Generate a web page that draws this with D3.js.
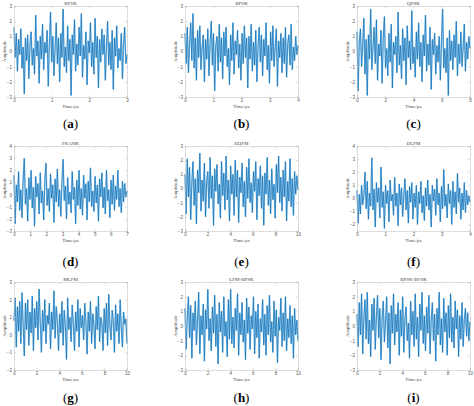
<!DOCTYPE html>
<html><head><meta charset="utf-8">
<script src="https://cdn.jsdelivr.net/npm/d3@7"></script>
<style>body{margin:0;background:#fff}</style>
</head><body><div id="chart"></div>
<script>
const titles = ["BFSK","BPSK","QPSK","FRANK","EQFM","DLFM","MLFM","LFM-BPSK","BPSK-BFSK"];
const captions = ["a","b","c","d","e","f","g","h","i"];
const xMax = [3,4,8,7,10,4,10,10,10];
const xTicks = [[0,1,2,3],[0,1,2,3,4],[0,2,4,6,8],[0,1,2,3,4,5,6,7],[0,2,4,6,8,10],[0,1,2,3,4],[0,2,4,6,8,10],[0,2,4,6,8,10],[0,2,4,6,8,10]];
const yRange = [[-3,3],[-3,3],[-3,3],[-3,4],[-3,3],[-2.5,4],[-2,3],[-3,3],[-3,3]];
const yTicks = [[-3,-2,-1,0,1,2,3],[-3,-2,-1,0,1,2,3],[-3,-2,-1,0,1,2,3],[-3,-2,-1,0,1,2,3,4],[-3,-2,-1,0,1,2,3],[-2,-1,0,1,2,3,4],[-2,-1,0,1,2,3],[-3,-2,-1,0,1,2,3],[-3,-2,-1,0,1,2,3]];

const sigA = [1.6,-0.4,1.2,-1.3,0.8,-0.2,1.5,-1.1,0.3,-2.8,0.9,-0.6,1.1,-1.8,0.4,1.3,-0.9,0.2,-1.5,2.4,-0.3,0.7,-2.1,1.0,-0.5,1.8,-1.2,0.6,-0.1,1.4,-2.3,0.5,2.6,-0.7,1.0,-1.6,0.2,1.9,-0.8,0.9,-2.0,1.2,-0.4,2.8,-1.0,0.3,-1.4,1.7,-0.6,0.8,-2.9,1.1,-0.2,2.1,-1.3,0.5,-0.9,1.6,-0.3,2.5,-1.7,0.4,-0.5,1.3,-2.2,0.7,-0.1,1.9,-1.0,0.6,-1.5,2.2,-0.4,1.0,-2.4,0.8,-0.7,1.5,-0.2,1.1,-1.9,0.3,2.0,-0.9,0.6,-1.2,1.4,-2.5,0.9,-0.3,1.7,-1.1,0.2,-0.6,1.2,-1.8,0.5,1.6,-0.8,-0.2];
const sigB = [1.2,-0.8,1.6,-1.4,0.5,1.9,-0.6,2.5,-1.1,0.9,-1.9,1.4,-0.4,1.7,-1.2,0.3,1.1,-2.0,0.8,-0.5,1.5,-1.6,0.6,2.0,-0.9,1.2,-2.6,0.4,1.0,-1.3,1.8,-0.7,0.9,-1.8,1.3,-0.3,1.6,-1.0,0.2,-2.2,1.1,-0.6,1.9,-1.5,0.7,-0.2,1.4,-1.1,0.5,-1.9,1.2,-0.8,1.7,-0.4,0.9,-2.4,1.0,-0.5,1.8,-1.3,0.6,-0.9,1.4,-2.0,0.3,1.6,-0.7,1.1,-1.6,0.8,-0.3,1.9,-1.2,0.4,-2.1,1.3,-0.6,1.7,-1.0,0.2,1.5,-2.3,0.7,-0.4,1.2,-1.4,0.9,-0.8,1.6,-1.7,0.5,1.1,-0.9,1.8,-1.2,0.3,-0.6,1.0,-0.2,0.4];
const sigC = [1.3,-2.6,0.6,1.5,-1.0,0.4,2.2,-1.5,0.8,-2.9,1.1,-0.5,2.8,-1.2,0.3,1.6,-0.8,2.1,-1.9,0.5,-0.3,1.4,-2.1,0.9,2.3,-1.1,0.2,-1.6,1.2,-0.7,1.8,-2.4,0.6,-0.2,1.0,-1.4,2.6,-0.9,0.4,-1.8,1.5,-0.6,0.9,-2.2,1.7,-0.4,0.7,-1.2,2.7,-0.8,0.3,-1.7,1.3,-0.5,1.9,-1.0,0.6,-2.0,1.1,-0.3,2.4,-1.3,0.5,-0.9,1.6,-2.5,0.8,-0.2,1.2,-1.5,0.4,-0.7,1.0,-1.9,0.6,2.8,-1.1,0.2,-1.4,0.9,-2.9,1.4,-0.6,0.7,-1.2,1.1,-0.4,2.0,-1.6,0.5,-0.8,1.3,-1.0,0.3,1.8,-1.3,0.6,-0.5,1.0,0.2];
const sigD = [1.6,-2.4,0.8,-0.6,1.9,-1.3,0.4,-1.9,1.2,3.0,-0.8,0.5,-2.2,1.4,-0.4,2.0,-1.1,0.6,-2.6,1.5,-0.2,0.9,-1.6,1.8,-0.7,0.3,-2.1,1.1,2.6,-0.9,0.5,-1.4,1.7,-0.3,0.8,-2.3,1.3,-0.6,2.1,-1.0,0.4,-1.8,1.0,2.9,-0.5,0.7,-2.0,1.4,-0.8,0.2,-1.5,1.9,-0.4,0.6,-2.4,1.2,-0.9,2.0,-1.2,0.5,-1.7,1.6,-0.3,0.9,-2.1,1.1,-0.6,2.2,-1.0,0.3,-1.4,1.5,-0.7,0.8,-2.2,1.3,-0.2,1.8,-1.1,0.6,-1.6,2.0,-0.5,0.4,-1.9,1.2,-0.8,1.6,-1.3,0.7,-0.4,2.0,-1.0,0.5,-1.5,1.1,-0.6,0.9,-0.2,0.3];
const sigE = [1.0,-1.8,2.1,-0.6,1.5,-2.2,0.4,1.9,-1.2,0.7,-2.5,1.3,-0.3,2.5,-1.6,0.6,-0.9,1.8,-2.0,0.5,1.2,-1.4,2.2,-0.7,0.9,-2.6,1.4,-0.2,1.7,-1.1,0.3,-2.1,1.9,-0.5,1.1,-1.5,2.3,-0.8,0.6,-2.3,1.6,-0.4,1.0,-1.9,2.0,-0.6,1.3,-2.4,0.8,-0.3,1.8,-1.3,0.5,-2.0,1.5,-0.7,2.1,-1.0,0.4,-1.7,1.2,-0.2,1.9,-2.2,0.7,-0.5,1.6,-1.4,0.9,-2.6,1.1,-0.4,2.2,-1.2,0.6,-1.8,1.4,-0.8,0.3,-2.1,1.7,-0.3,2.3,-1.0,0.8,-1.6,1.3,-0.6,1.9,-2.3,0.5,-0.9,2.1,-1.3,0.7,-1.9,1.2,-0.4,0.9,-0.1];
const sigF = [0.6,-1.9,0.3,-1.2,1.0,-0.5,0.2,2.0,-0.8,1.3,-1.6,0.4,-0.6,3.1,-0.9,0.7,-2.2,1.2,-0.3,0.8,-1.5,2.4,-0.7,0.5,-2.3,1.0,-0.4,0.6,-1.8,1.4,-0.2,0.3,-1.3,1.6,-0.6,0.4,-2.1,1.1,-0.5,0.8,-1.4,0.2,1.5,-0.9,0.6,-1.9,0.9,-0.3,1.2,-1.6,0.4,-0.7,1.0,-2.0,0.5,-0.4,1.3,-1.1,0.2,-1.7,0.8,-0.6,1.4,-0.9,0.3,-2.2,1.0,-0.2,0.7,-1.3,1.5,-0.5,0.4,-1.8,0.9,-0.8,2.2,-0.6,0.3,-1.5,1.1,-0.4,0.6,-2.0,1.3,-0.7,0.5,-1.2,1.9,-0.3,0.8,-1.6,0.4,-0.9,1.2,-1.1,0.6,-0.5,0.2,-0.3];
const sigG = [0.8,2.1,-0.7,1.6,0.2,1.9,-0.5,2.4,0.6,-1.2,1.8,0.3,2.0,-0.6,1.3,0.1,2.2,-0.9,1.5,0.4,1.9,-0.3,2.6,0.7,-1.0,1.4,0.2,2.0,-0.5,1.1,0.6,1.8,-0.8,1.3,0.3,2.5,-0.2,1.6,0.8,-0.9,1.2,0.1,1.9,-0.6,1.4,0.5,-1.4,2.1,0.3,1.0,-0.4,1.7,0.6,-0.9,1.3,0.2,2.0,-0.7,1.5,0.4,1.1,-0.3,1.8,0.7,-1.1,1.3,0.2,1.9,-0.5,1.2,0.6,-0.8,1.6,0.3,2.2,-0.4,1.0,0.7,-0.9,1.5,0.1,1.8,-0.6,2.3,0.5,-0.3,1.4,0.8,-1.0,1.7,0.2,1.2,-0.5,2.0,0.4,-0.7,1.3,0.6,0.9,-0.5];
const sigH = [1.2,-1.6,0.6,2.0,-0.8,1.4,-2.2,0.9,-0.3,1.7,-1.3,0.4,2.3,-1.9,0.7,-0.6,1.5,-2.4,1.1,-0.2,2.5,-1.0,0.5,-1.7,1.3,-0.5,2.1,-1.4,0.8,-2.6,1.6,-0.4,1.0,-1.8,2.0,-0.7,0.3,-2.1,1.8,-0.9,2.5,-1.2,0.6,-1.5,1.2,-0.3,2.2,-2.0,0.9,-0.6,1.6,-1.1,0.4,-2.3,1.9,-0.5,1.3,-1.6,0.7,-0.2,2.0,-1.9,1.0,-0.8,1.5,-2.2,0.5,-0.4,1.8,-1.3,0.8,-2.0,1.4,-0.6,2.1,-1.1,0.3,-1.8,1.7,-0.7,1.1,-2.5,0.6,-0.3,1.9,-1.4,0.9,-1.0,2.0,-1.7,0.5,-0.8,1.4,-1.2,0.7,-2.2,1.2,-0.6,0.4,-1.0];
const sigI = [0.8,-1.4,1.6,-0.6,2.2,-1.9,0.5,1.8,-0.9,2.3,-1.2,0.4,-2.1,1.5,-0.3,1.9,-1.6,0.7,2.1,-0.8,1.2,-2.3,0.6,1.7,-1.1,0.3,2.0,-1.5,0.9,-2.6,1.4,-0.5,2.2,-1.3,0.8,-0.4,1.6,-2.0,1.1,-0.7,2.0,-1.8,0.5,1.3,-1.0,0.2,-2.2,1.7,-0.6,1.0,-1.4,2.2,-0.9,0.6,-2.1,1.5,-0.3,2.3,-1.2,0.7,-1.7,1.3,-0.5,2.1,-1.9,0.4,1.6,-1.0,0.8,-2.4,1.2,-0.6,2.3,-1.3,0.5,-1.8,1.9,-0.4,0.9,-2.0,1.4,-0.8,2.2,-1.1,0.6,-1.5,1.7,-0.2,1.1,-2.1,0.7,-0.9,1.6,-1.4,0.4,1.2,-0.7,0.9,-1.0,0.3];
const signals = [sigA,sigB,sigC,sigD,sigE,sigF,sigG,sigH,sigI];

const W = 474, H = 406;
const colX = [14,185,357], plotW = 113;
const rowY = [6,146,282], rowH = [91,85,88], capY = [128,266,402];

const svg = d3.select("#chart").append("svg").attr("width",W).attr("height",H)
  .style("font-family","'Liberation Serif','DejaVu Serif',serif");

signals.forEach((sig,i) => {
  const r = Math.floor(i/3), c = i%3;
  const h = rowH[r];
  const g = svg.append("g").attr("transform",`translate(${colX[c]},${rowY[r]})`);
  const x = d3.scaleLinear().domain([0,xMax[i]]).range([0,plotW]);
  const y = d3.scaleLinear().domain(yRange[i]).range([h,0]);
  const step = xMax[i]/(sig.length-1);

  const line = d3.line().x((d,k) => x(k*step)).y(d => y(d));
  g.append("path").datum(sig).attr("d",line).attr("fill","none")
    .attr("stroke","#a6d8f3").attr("stroke-width",1.6);
  g.append("path").datum(sig).attr("d",line).attr("fill","none")
    .attr("stroke","#0f6cb3").attr("stroke-width",0.7);

  const fmt = d3.format("~g");
  const ax = d3.axisBottom(x).tickValues(xTicks[i]).tickSize(-2).tickPadding(2).tickFormat(fmt);
  const ay = d3.axisLeft(y).tickValues(yTicks[i]).tickSize(-2).tickPadding(2).tickFormat(fmt);
  g.append("g").attr("transform",`translate(0,${h})`).call(ax);
  g.append("g").call(ay);
  g.append("g").call(d3.axisTop(x).tickValues(xTicks[i]).tickSize(-2).tickFormat(""));
  g.append("g").attr("transform",`translate(${plotW},0)`).call(d3.axisRight(y).tickValues(yTicks[i]).tickSize(-2).tickFormat(""));
  g.selectAll(".domain,.tick line").attr("stroke","#bbb").attr("stroke-width",0.5);
  g.selectAll(".tick text").attr("font-size",4.5).attr("fill","#555").style("font-family","inherit");

  g.append("text").attr("x",plotW/2).attr("y",-1.5).attr("text-anchor","middle")
    .attr("font-size",5).attr("fill","#444").text(titles[i]);
  g.append("text").attr("x",plotW/2).attr("y",h+11).attr("text-anchor","middle")
    .attr("font-size",5).attr("fill","#444").text("Time/\u03bcs");
  g.append("text").attr("transform",`translate(-8,${h/2}) rotate(-90)`).attr("text-anchor","middle")
    .attr("font-size",5).attr("fill","#444").text("Amplitude");

  const cap = svg.append("text").attr("x",colX[c]+plotW/2).attr("y",capY[r])
    .attr("text-anchor","middle").attr("font-size",13).attr("fill","#000");
  cap.append("tspan").text("(");
  cap.append("tspan").attr("font-weight","bold").text(captions[i]);
  cap.append("tspan").text(")");
});
</script></body></html>
